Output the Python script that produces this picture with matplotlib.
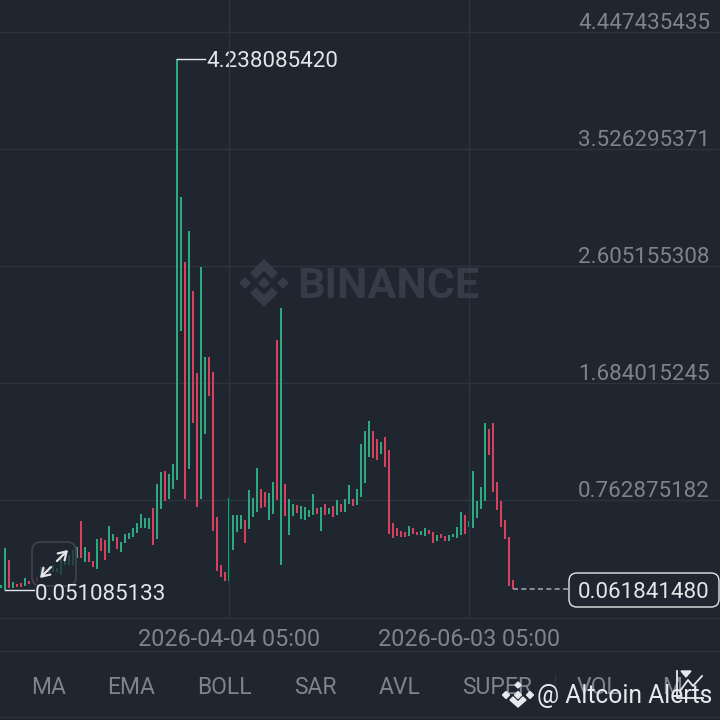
#!/usr/bin/env python3
# Binance daily candles screenshot, redrawn with matplotlib
import numpy as np
import matplotlib
matplotlib.use("Agg")
import matplotlib.pyplot as plt
from matplotlib.patches import FancyBboxPatch, Polygon

# --- values ----------------------------------------------------------------
HIGHS = [0.094, 0.385, 0.291, 0.117, 0.102, 0.109, 0.149, 0.125, 0.141, 0.157,
         0.235, 0.227, 0.235, 0.251, 0.227, 0.314, 0.306, 0.330, 0.369, 0.393,
         0.598, 0.393, 0.354, 0.283, 0.456, 0.464, 0.448, 0.558, 0.495, 0.472,
         0.432, 0.495, 0.503, 0.542, 0.582, 0.653, 0.621, 0.621, 0.700, 0.889,
         0.983, 0.991, 0.968, 1.046, 4.238, 3.148, 2.637, 2.881, 2.408, 1.763,
         2.597, 1.889, 1.889, 1.771, 0.629, 0.251, 0.196, 0.779, 0.645, 0.645,
         0.645, 0.605, 0.842, 0.779, 1.015, 0.850, 0.826, 0.818, 0.905, 2.023,
         2.275, 0.889, 0.771, 0.731, 0.724, 0.716, 0.708, 0.684, 0.810, 0.700,
         0.708, 0.731, 0.700, 0.716, 0.763, 0.731, 0.771, 0.881, 0.771, 0.850,
         1.204, 1.306, 1.385, 1.306, 1.243, 1.220, 1.259, 1.157, 0.582, 0.542,
         0.519, 0.511, 0.558, 0.542, 0.511, 0.519, 0.542, 0.527, 0.511, 0.487,
         0.495, 0.479, 0.487, 0.495, 0.550, 0.669, 0.645, 0.597, 0.991, 0.755,
         0.865, 1.369, 1.322, 1.369, 0.905, 0.755, 0.605, 0.472, 0.133]
LOWS = [0.070, 0.051, 0.070, 0.070, 0.078, 0.078, 0.086, 0.102, 0.117, 0.117,
        0.157, 0.172, 0.188, 0.196, 0.196, 0.172, 0.251, 0.251, 0.251, 0.306,
        0.306, 0.275, 0.275, 0.235, 0.220, 0.362, 0.291, 0.346, 0.440, 0.377,
        0.354, 0.424, 0.456, 0.472, 0.503, 0.542, 0.542, 0.535, 0.409, 0.456,
        0.692, 0.755, 0.771, 0.850, 0.920, 2.093, 0.771, 1.007, 1.369, 0.708,
        0.771, 1.283, 1.582, 0.519, 0.204, 0.157, 0.125, 0.125, 0.369, 0.511,
        0.535, 0.424, 0.535, 0.629, 0.669, 0.700, 0.708, 0.605, 0.653, 0.763,
        0.251, 0.637, 0.487, 0.637, 0.661, 0.613, 0.605, 0.629, 0.645, 0.653,
        0.519, 0.645, 0.653, 0.629, 0.645, 0.669, 0.669, 0.731, 0.716, 0.724,
        0.786, 0.897, 1.102, 1.094, 1.078, 1.125, 1.023, 0.495, 0.464, 0.479,
        0.472, 0.472, 0.479, 0.495, 0.487, 0.487, 0.479, 0.495, 0.424, 0.440,
        0.464, 0.440, 0.440, 0.472, 0.464, 0.487, 0.495, 0.550, 0.542, 0.621,
        0.692, 0.755, 1.117, 0.826, 0.684, 0.550, 0.456, 0.086, 0.062]
DIRS = list("GGRGRRGRGR" "GRGGGGGGGG" "RGRRGRRGGR" "GGGGGGGGRG"
            "GRGGGGRGRR" "GGRRRRRGGG" "GRGGGRRGGR" "GRGGRGGGGR"
            "GRGRGRGGRG" "GGGRRGRRRR" "RRGRRGGRRG" "RRGGGGRGGG"
            "GGRRRRRRR")

PRICE_TICKS = [4.447435435, 3.526295371, 2.605155308, 1.684015245, 0.762875182]
DATE_IDX    = [57, 117]
DATE_LABELS = ["2026-04-04 05:00", "2026-06-03 05:00"]
TABS        = ["MA", "EMA", "BOLL", "SAR", "AVL", "SUPER", "VOL", "M"]
TAB_X       = [49, 131, 224, 315, 400, 497, 598, 672]
HIGH_LABEL, LOW_LABEL, LAST_PRICE = 4.238085420, 0.051085133, 0.061841480

BG, GRID, LABEL = "#1f2630", "#2d343e", "#7d848e"
UP, DOWN = "#2ea97f", "#d8415d"
WHITE = "#e4e6e9"
plt.rcParams['font.family'] = ['Roboto', 'DejaVu Sans']

fig = plt.figure(figsize=(7.2, 7.2), dpi=100, facecolor=BG)

# price axes over the whole picture: 117 px per 0.921140063 of price
PER_PX = (PRICE_TICKS[0] - PRICE_TICKS[1]) / 117
ax = fig.add_axes([0, 0, 1, 1], facecolor=BG)
ax.set_xlim(-0.25, 179.75)
ax.set_ylim(PRICE_TICKS[4] - 220*PER_PX, PRICE_TICKS[4] + 500*PER_PX)
ax.axis("off")

# overlay in pixels for the app chrome
ui = fig.add_axes([0, 0, 1, 1], facecolor="none", zorder=5)
ui.set_xlim(0, 720); ui.set_ylim(720, 0); ui.axis("off")

# grid
for p in PRICE_TICKS:
    ax.axhline(p, color=GRID, lw=1.0, zorder=1)
for i in DATE_IDX:
    ui.plot([1 + 4*i]*2, [0, 618], color=GRID, lw=1.0, zorder=0)
for y in (618, 651, 717):
    ui.plot([0, 720], [y, y], color=GRID, lw=1.0, zorder=0)

# candles
hi, lo = np.array(HIGHS), np.array(LOWS)
xs = np.arange(len(hi))
cols = [UP if d == "G" else DOWN for d in DIRS]
ax.bar(xs, hi - lo, bottom=lo, width=0.62, color=cols, lw=0, zorder=3)

# price labels sit just above their grid line
for p in PRICE_TICKS:
    ax.annotate(f"{p:.9f}", (0.985, p), xycoords=("axes fraction", "data"),
                xytext=(0.5, -1.2), textcoords="offset points",
                ha="right", va="bottom", fontsize=16.1, color=LABEL, zorder=4)
for i, lab in zip(DATE_IDX, DATE_LABELS):
    ui.text(1 + 4*i, 639, lab, ha="center", va="center", fontsize=16.8, color=LABEL)

# high / low / last markers
i_hi, i_lo = int(np.argmax(hi)), int(np.argmin(lo))
ax.plot([i_hi, i_hi + 7], [HIGH_LABEL]*2, color=WHITE, lw=1.0, zorder=4)
ax.annotate(f"{HIGH_LABEL:.9f}", (i_hi + 7.4, HIGH_LABEL), xytext=(0, -2), textcoords="offset points",
            va="center", fontsize=16.1, color=WHITE, zorder=4)
ax.plot([i_lo, i_lo + 7.3], [LOW_LABEL]*2, color=WHITE, lw=1.0, zorder=4)
ax.plot([len(hi) - 1, 141.7], [LAST_PRICE]*2, color="#9a9fa8", lw=1.2, ls=(0, (3, 2)), zorder=4)

# watermark
ui.text(297, 286, "BINANCE", va="center", fontsize=31, fontweight="bold", color="#363c47", zorder=1)
for cx, cy, r in [(245, 283, 5), (264, 283, 5), (283, 283, 5)]:
    ui.add_patch(Polygon([(cx-r, cy), (cx, cy-r), (cx+r, cy), (cx, cy+r)], color="#363c47", zorder=1))
ui.add_patch(Polygon([(264, 260), (277, 273), (272, 278), (264, 270), (256, 278), (251, 273)], color="#363c47", zorder=1))
ui.add_patch(Polygon([(264, 306), (277, 293), (272, 288), (264, 296), (256, 288), (251, 293)], color="#363c47", zorder=1))

# expand button
ui.add_patch(FancyBboxPatch((32, 542), 44, 44, boxstyle="round,pad=0,rounding_size=9",
                            fc=BG, alpha=0.75, ec="none", zorder=2))
ui.add_patch(FancyBboxPatch((32, 542), 44, 44, boxstyle="round,pad=0,rounding_size=9",
                            fc="none", ec="#3b424c", lw=1.3, zorder=2))
ui.annotate("", xy=(68, 550), xytext=(57, 561), zorder=3,
            arrowprops=dict(arrowstyle="->,head_length=0.55,head_width=0.35", color=WHITE, lw=1.6, shrinkA=0, shrinkB=0))
ui.annotate("", xy=(40, 578), xytext=(51, 567), zorder=3,
            arrowprops=dict(arrowstyle="->,head_length=0.55,head_width=0.35", color=WHITE, lw=1.6, shrinkA=0, shrinkB=0))
ui.text(35, 594, f"{LOW_LABEL:.9f}", va="center", fontsize=16.1, color=WHITE, zorder=4)

# last price box
ui.add_patch(FancyBboxPatch((569, 573), 150, 34, boxstyle="round,pad=0,rounding_size=8",
                            fc=BG, ec=WHITE, lw=1.0, zorder=4))
ui.text(644, 592.5, f"{LAST_PRICE:.9f}", ha="center", va="center", fontsize=16.1, color=WHITE, zorder=5)

# tabs
for x, lab in zip(TAB_X, TABS):
    ui.text(x, 687.5, lab, ha="center", va="center", fontsize=16.5, color=LABEL, zorder=2)
ui.plot([555, 555], [674, 694], color=GRID, lw=1.0, zorder=2)

# repost watermark over the tabs
for cx, cy, r in [(506, 695, 3.5), (518, 685, 3), (530, 695, 3.5), (518, 695, 3.5)]:
    ui.add_patch(Polygon([(cx-r, cy), (cx, cy-r), (cx+r, cy), (cx, cy+r)], color="#e8e9ec", zorder=6))
ui.add_patch(Polygon([(518, 707), (526, 700), (523, 697), (518, 702), (513, 697), (510, 700)], color="#e8e9ec", zorder=6))
ui.text(537, 695.5, "@ Altcoin Alerts", va="center", fontsize=17.7, color="#e8e9ec", zorder=6)

# chart icon
ui.plot([677, 677, 703], [671, 698, 698], color="#e8e9ec", lw=1.3, zorder=6)
ui.plot([680, 688, 693, 702], [691, 680, 686, 676], color="#e8e9ec", lw=1.3, zorder=6)
ui.add_patch(Polygon([(681, 671), (691, 671), (686, 677)], color="#e8e9ec", zorder=6))

fig.savefig("out.png", dpi=100, facecolor=BG)
